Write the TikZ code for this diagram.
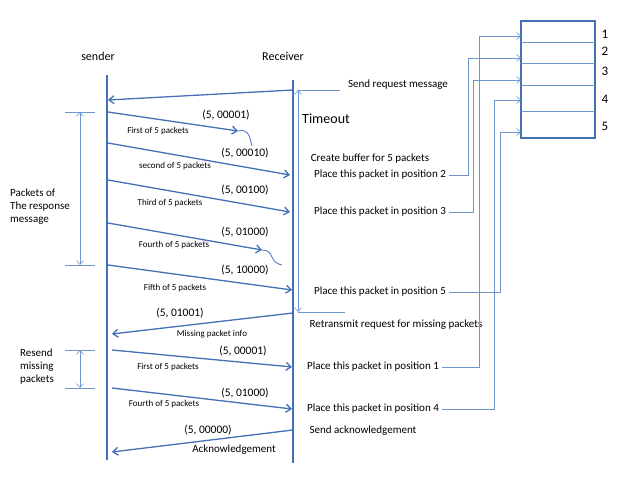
\documentclass[tikz,border=0pt]{standalone}
\usepackage{fontspec}
\setmainfont{Carlito}
\usetikzlibrary{arrows.meta}
\definecolor{msgblue}{RGB}{68,112,182}
\definecolor{thinblue}{RGB}{110,150,205}
\tikzset{
  msg/.style = {draw=msgblue, line width=1.3pt, -{Straight Barb[length=5pt,width=8pt]}},
  lane/.style = {draw=msgblue, line width=1.3pt},
  thin/.style = {draw=thinblue, line width=0.6pt},
  thinarr/.style = {thin, -{Straight Barb[length=4pt,width=7pt]}},
  big/.style = {font=\fontsize{12}{14}\selectfont},
  lbl/.style = {font=\fontsize{11.5}{13}\selectfont},
  small/.style = {font=\fontsize{9}{11}\selectfont},
  side/.style = {font=\fontsize{11}{13}\selectfont, align=left}
}
\begin{document}
\begin{tikzpicture}[x=1pt, y=-1pt]
    \useasboundingbox (0,0) rectangle (638,478);

        % lanes
        \node[big] (snd) at (98,56) {sender};
        \node[big] (rcv) at (283,56) {Receiver};
        \coordinate (sTop) at (107,75);  \coordinate (sBot) at (107,460);
        \coordinate (rTop) at (293,80);  \coordinate (rBot) at (293,463);
        \draw[lane] (sTop) -- (sBot);
        \draw[lane] (rTop) -- (rBot);

        % timeout bracket
        \coordinate (toA) at (298,90);  \coordinate (toB) at (298,312);
        \draw[thin, {Straight Barb[length=4pt,width=7pt]}-{Straight Barb[length=4pt,width=7pt]}] (toA) -- (toB);
        \node[side] (req) at (398,85) {Send request message};
        \draw[thin] (toA) -- (340,90);
        \draw[thin] (toB) -- (345,312);
        \node[font=\fontsize{14}{16}\selectfont] (tout) at (326,119) {Timeout};

        % messages
        \draw[msg] (293,90) -- (108,100);
        \draw[msg] (108,112) -- (238,131);
        \draw[thin, msgblue, line width=0.8pt] (238,131) .. controls (250,128) and (250,140) .. (252,146);
        \draw[msg] (108,143) -- (290,175);
        \draw[msg] (108,180) -- (290,212);
        \draw[msg] (108,223) -- (262,250);
        \draw[thin, msgblue, line width=0.8pt] (262,250) .. controls (275,250) and (268,262) .. (282,265);
        \draw[msg] (108,265) -- (292,290);
        \draw[msg] (293,313) -- (112,334);
        \draw[msg] (112,350) -- (292,367);
        \draw[msg] (112,388) -- (292,409);
        \draw[msg] (293,430) -- (112,452);

        \node[lbl] (m1) at (226,115) {(5, 00001)};
        \node[small] (d1) at (158,131) {First of 5 packets};
        \node[lbl] (m2) at (245,153) {(5, 00010)};
        \node[small] (d2) at (175,166) {second of 5 packets};
        \node[lbl] (m3) at (245,190) {(5, 00100)};
        \node[small] (d3) at (170,203) {Third of 5 packets};
        \node[lbl] (m4) at (245,232) {(5, 01000)};
        \node[small] (d4) at (174,245) {Fourth of 5 packets};
        \node[lbl] (m5) at (245,270) {(5, 10000)};
        \node[small] (d5) at (175,288) {Fifth of 5 packets};
        \node[lbl] (m6) at (180,313) {(5, 01001)};
        \node[small] (d6) at (212,334) {Missing packet info};
        \node[lbl] (m7) at (243,351) {(5, 00001)};
        \node[small] (d7) at (168,367) {First of 5 packets};
        \node[lbl] (m8) at (245,393) {(5, 01000)};
        \node[small] (d8) at (164,404) {Fourth of 5 packets};
        \node[lbl] (m9) at (208,430) {(5, 00000)};
        \node[side] (d9) at (234,450) {Acknowledgement};

        % left brackets
        \draw[thin] (65,112) -- (95,112);
        \draw[thin] (65,265) -- (95,265);
        \draw[thin, {Straight Barb[length=4pt,width=7pt]}-{Straight Barb[length=4pt,width=7pt]}] (80,112) -- (80,265);
        \node[side] (pk) at (40,207) {Packets of\\The response\\message};
        \draw[thin] (65,350) -- (95,350);
        \draw[thin] (65,388) -- (95,388);
        \draw[thin, {Straight Barb[length=4pt,width=7pt]}-{Straight Barb[length=4pt,width=7pt]}] (80,350) -- (80,388);
        \node[side] (rs) at (37,367) {Resend\\missing\\packets};

        % receiver actions
        \node[side] (cb) at (370,159) {Create buffer for 5 packets};
        \node[side] (p2) at (380,175) {Place this packet in position 2};
        \node[side] (p3) at (380,212) {Place this packet in position 3};
        \node[side] (p5) at (380,292) {Place this packet in position 5};
        \node[side] (rt) at (396,325) {Retransmit request for missing packets};
        \node[side] (p1) at (373,367) {Place this packet in position 1};
        \node[side] (p4) at (373,409) {Place this packet in position 4};
        \node[side] (ack) at (363,431) {Send acknowledgement};

        % buffer
        \draw[lane, line width=1.1pt] (521,21) rectangle (595,138);
        \foreach \y in {42,63,85,111} \draw[thin] (521,\y) -- (595,\y);
        \foreach \n/\y in {1/34,2/51,3/71,4/99,5/126}
            \node[font=\fontsize{13}{15}\selectfont] (b\n) at (605,\y) {\n};

        % packet placement
        \draw[thinarr] (p1.east) -- (479,367) -- (479,36) -- (521,36);
        \draw[thinarr] (p2.east) -- (468,175) -- (468,58) -- (521,58);
        \draw[thinarr] (p3.east) -- (473,212) -- (473,80) -- (521,80);
        \draw[thinarr] (p4.east) -- (494,409) -- (494,100) -- (521,100);
        \draw[thinarr] (p5.east) -- (500,292) -- (500,132) -- (521,132);

\end{tikzpicture}
\end{document}
